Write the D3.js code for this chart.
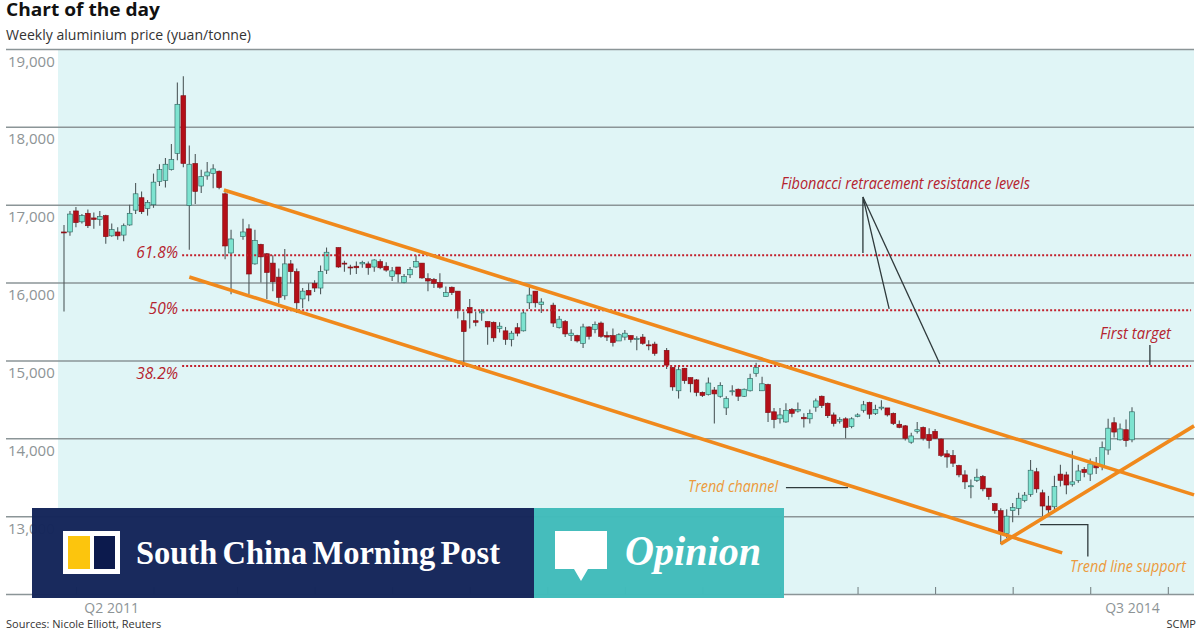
<!DOCTYPE html>
<html><head><meta charset="utf-8">
<script src="https://cdn.jsdelivr.net/npm/d3@7/dist/d3.min.js"></script>
<style>html,body{margin:0;padding:0;background:#fff;overflow:hidden}svg{display:block}text{font-family:"Open Sans",sans-serif}</style>
</head><body><svg id="c" width="1200" height="630"></svg>
<script>
const open=[16650,16650,16920,16780,16890,16830,16810,16860,16600,16650,
16610,16740,16930,17090,16950,17000,17300,17310,17450,17660,
18400,16990,17530,17240,17370,17400,17430,17140,16380,null,
16590,16690,16240,16490,16370,16250,16070,15830,16240,16140,
15790,15900,15990,15930,16160,null,16450,16250,16200,16210,
16240,16240,16200,16270,16210,16080,16200,16000,16100,16200,
16250,16050,16040,16000,15820,15940,15890,15510,15680,15510,
15610,15500,15490,15410,15380,15270,15420,15380,15740,15890,
15720,null,15710,15420,15500,15320,15320,15220,15430,15400,
15480,15320,15320,15250,15300,15320,15270,15300,15200,15210,
null,15130,14910,14610,14900,14780,14750,14590,14560,14620,
14540,14390,14600,14630,14540,14610,14830,14610,14690,14340,
14250,14210,14370,14350,14270,14250,14400,14540,14450,14300,
14220,14250,14150,14280,14360,14460,14320,14390,14390,14320,
14180,14160,13950,14090,14140,14050,14090,13990,13800,13780,
13650,13530,13380,13460,13510,13360,13160,13070,12780,13070,
13100,13200,13280,13570,13300,13130,13120,13540,13530,13410,
13460,13600,13540,13650,13650,13850,14200,13980,14110,13980];
const high=[16740,16920,16970,16880,16940,16900,16920,16870,16760,16710,
16760,17000,17280,17170,17060,17400,17520,17600,17780,18570,
18650,17760,17650,17450,17550,17520,17440,17160,16680,null,
16820,16750,16680,16500,16380,16350,16180,16430,16290,16180,
15930,15990,16030,16220,16450,null,16450,16280,16230,16270,
16280,16270,16300,16300,16260,16200,16200,16110,16200,16350,
16250,16120,16060,16120,15950,15950,15890,15630,15790,15630,
15660,15500,15500,15490,15430,15380,15480,15650,15940,15890,
15800,null,15740,15570,15520,15400,15330,15470,15440,15500,
15500,15370,15410,15350,15390,15320,15310,15340,15260,15240,
null,15160,14910,14940,14900,14780,14760,14600,14780,14660,
14720,14540,14680,14640,14640,14830,14970,14790,14700,14390,
14390,14450,14390,14460,14320,14370,14510,14550,14460,14330,
14270,14270,14270,14320,14480,14470,14430,14490,14390,14330,
14230,14170,14070,14210,14150,14130,14120,14000,13850,13850,
13660,13590,13470,13610,13530,13360,13170,13100,13090,13170,
13300,13310,13720,13620,13340,13260,13520,13660,13570,13840,
13660,13630,13740,13760,13960,14250,14270,14190,14240,14400];
const low=[15630,16600,16710,16760,16700,16690,16730,16500,16590,16550,
16530,16730,16880,16880,16860,16960,17240,17220,17440,17570,
17480,16420,17010,17150,17320,17210,17200,16300,15850,null,
16550,15850,16230,16000,15790,15890,15730,15780,15990,15610,
15670,15760,15880,15850,16110,null,16190,16140,16100,16110,
16190,16100,16140,16170,16140,16020,16000,15990,16060,16190,
16050,15890,15930,15920,15820,15840,15540,14960,15410,15440,
15510,15200,15240,15360,15200,15180,15310,15370,15660,15680,
15610,null,15430,15410,15300,15250,15230,15160,15270,15350,
15290,15250,15180,15250,15260,15230,15130,15200,15130,15060,
null,14890,14610,14510,14700,14590,14540,14530,14550,14190,
14520,14300,14550,14480,14530,14600,14790,14610,14210,14130,
14190,14200,14270,14330,14140,14190,14340,14390,14260,14150,
14190,14000,14130,14270,14330,14250,14300,14360,14280,14170,
14130,13970,13930,14060,13970,13870,13990,13760,13620,13630,
13500,13350,13230,13440,13320,13210,13030,12640,12720,12920,
13010,13180,13250,13300,13000,13030,13080,13380,13280,13380,
13430,13500,13450,13540,13590,13790,14010,13970,13890,13950];
const close=[16640,16880,16770,16860,16730,16810,16850,16590,16680,16600,
16730,16890,17140,16910,17030,17290,17450,17520,17580,18290,
17530,17520,17170,17360,17420,17460,17220,16470,16560,null,
16650,16110,16540,16330,16130,16010,15810,16240,16140,15740,
15890,15840,15930,16140,16390,null,16200,16240,16190,16190,
16260,16190,16290,16190,16160,16150,16110,16080,16170,16270,
16060,16020,15990,15940,15870,15870,15640,15370,15610,15490,
15630,15430,15290,15440,15270,15350,15350,15610,15840,15740,
15750,null,15480,15530,15340,15350,15250,15430,15310,15460,
15310,15300,15230,15330,15350,15270,15280,15220,15190,15090,
null,14940,14660,14880,14740,14700,14590,14550,14710,14570,
14680,14510,14610,14540,14630,14770,14910,14700,14330,14240,
14300,14360,14320,14370,14250,14320,14480,14420,14290,14190,
14240,14140,14250,14300,14430,14310,14370,14400,14300,14190,
14140,14000,14030,14110,14000,13970,14000,13780,13760,13680,
13530,13440,13390,13500,13350,13250,13070,12780,13000,13110,
13230,13270,13590,13350,13130,13080,13380,13460,13400,13440,
13580,13560,13670,13620,13880,14130,14080,14120,13970,14340];

const priceTicks=[19000,18000,17000,16000,15000,14000,13000,12000];
const quarterTicks=[2,15,29,42,55,68,81,94,107,120,133,146,159,172,185];
const quarterLabels=[[7.9,"Q2 2011"],[179,"Q3 2014"]];
const fibLevels=[16350,15645,14930];
const fibLabels=["61.8%","50%","38.2%"];
const fibLabelPrices=[16310,15590,14760];
const trendLines=[
 [[26.8,17190],[189.4,13273]],
 [[21,16072],[167.3,12528]],
 [[157,12644],[189.4,14159]]];
const leaderLines=[
 [[133.9,16380],[133.9,17100],[138.3,15661]],
 [[133.9,17100],[146.8,14955]],
 [[182,15199],[182,14942]],
 [[121,13367],[131.4,13367]],
 [[163.6,12892],[171.6,12892],[171.6,12481]]];

const svg=d3.select("#c");
const x=d3.scaleLinear().domain([0,179]).range([64,1132]);
const y=d3.scaleLinear().domain([12000,19000]).range([594,49]);
const RED="#b5232e",ORANGE="#f0891c";

svg.append("rect").attr("x",58).attr("y",49).attr("width",1136).attr("height",545).attr("fill","#e0f5f6");

// y axis: gridlines + labels
const ga=svg.append("g").attr("transform","translate(6,0)")
 .call(d3.axisRight(y).tickValues(priceTicks).tickSize(1188).tickFormat(d=>d===12000?"":d3.format(",")(d)));
ga.select(".domain").remove();
ga.selectAll("line").attr("stroke","#8b9597").attr("stroke-width",1.5);
ga.selectAll("text").attr("x",2).attr("dy",0).attr("y",17).attr("fill","#8d9496").attr("font-size",15).attr("text-anchor","start");

// x axis ticks
const xa=svg.append("g").attr("transform","translate(0,594)")
 .call(d3.axisTop(x).tickValues(quarterTicks).tickSize(7).tickFormat(""));
xa.select(".domain").remove();
xa.selectAll("line").attr("stroke","#6f7a7c").attr("stroke-width",1);
const xl=svg.append("g").attr("transform","translate(0,594)")
 .call(d3.axisBottom(x).tickValues(quarterLabels.map(d=>d[0])).tickSize(0)
 .tickFormat(d=>quarterLabels.find(q=>q[0]===d)[1]));
xl.select(".domain").remove();
xl.selectAll("text").attr("y",19).attr("dy",0).attr("fill","#8d9496").attr("font-size",14);

// candles
const weeks=d3.range(open.length).filter(i=>open[i]!==null);
const g=svg.append("g");
g.selectAll(".w").data(weeks).join("line").attr("class","w")
 .attr("x1",i=>x(i)).attr("x2",i=>x(i)).attr("y1",i=>y(high[i])).attr("y2",i=>y(low[i]))
 .attr("stroke","#4f5a5c").attr("stroke-width",1.1);
g.selectAll(".b").data(weeks).join("rect").attr("class","b")
 .attr("x",i=>x(i)-2.4).attr("width",4.8)
 .attr("y",i=>y(Math.max(open[i],close[i])))
 .attr("height",i=>Math.max(1,Math.abs(y(open[i])-y(close[i]))))
 .attr("fill",i=>close[i]>=open[i]?"#7de3d0":"#b40f18")
 .attr("stroke",i=>close[i]>=open[i]?"#2b5f5b":"#7d0d13").attr("stroke-width",.6);

// Fibonacci levels
svg.append("g").selectAll("line").data(fibLevels).join("line")
 .attr("x1",x(19.8)).attr("x2",x(188.9)).attr("y1",d=>y(d)).attr("y2",d=>y(d))
 .attr("stroke","#c2202c").attr("stroke-width",2).attr("stroke-dasharray","2 2");
svg.append("g").selectAll("text").data(fibLabels).join("text")
 .attr("x",178).attr("y",(d,i)=>y(fibLabelPrices[i])).attr("text-anchor","end")
 .attr("fill",RED).attr("font-style","italic").attr("font-size",15.5).text(d=>d);

// leaders + trend lines
const path=d3.line().x(d=>x(d[0])).y(d=>y(d[1]));
svg.append("g").selectAll("path").data(leaderLines).join("path").attr("d",path)
 .attr("fill","none").attr("stroke","#2f3a3c").attr("stroke-width",1.3);
svg.append("g").selectAll("path").data(trendLines).join("path").attr("d",path)
 .attr("fill","none").attr("stroke",ORANGE).attr("stroke-width",3.6);

// annotations
const note=(t,px,py,c,w)=>svg.append("text").attr("x",px).attr("y",py).attr("fill",c)
 .attr("font-style","italic").attr("font-size",15.5).attr("textLength",w).attr("lengthAdjust","spacingAndGlyphs").text(t);
note("Fibonacci retracement resistance levels",781,189,RED,249);
note("First target",1100,339,RED,71);
note("Trend channel",688,492,"#ec9a3c",90);
note("Trend line support",1070,572,"#ec9a3c",116);

// titles
svg.append("text").attr("x",6).attr("y",16).attr("font-weight",700).attr("font-size",18).attr("fill","#111")
 .attr("textLength",154).attr("lengthAdjust","spacingAndGlyphs").text("Chart of the day");
svg.append("text").attr("x",6).attr("y",40).attr("font-size",15).attr("fill","#333")
 .attr("textLength",245).attr("lengthAdjust","spacingAndGlyphs").text("Weekly aluminium price (yuan/tonne)");
svg.append("text").attr("x",6).attr("y",628).attr("font-size",11).attr("fill","#333").text("Sources: Nicole Elliott, Reuters");
svg.append("text").attr("x",1196).attr("y",628).attr("font-size",11).attr("text-anchor","end").attr("fill","#333").text("SCMP");

// banner
const b=svg.append("g");
b.append("rect").attr("x",32).attr("y",508).attr("width",502).attr("height",90).attr("fill","#14265a").attr("fill-opacity",.98);
b.append("rect").attr("x",534).attr("y",508).attr("width",250).attr("height",90).attr("fill","#41bcbb").attr("fill-opacity",.98);
b.append("rect").attr("x",63).attr("y",531).attr("width",57).attr("height",43).attr("fill","#fff");
b.append("rect").attr("x",68).attr("y",536).attr("width",22).attr("height",33).attr("fill","#fcc50d");
b.append("rect").attr("x",94).attr("y",536).attr("width",21).attr("height",33).attr("fill","#0c1a4d");
b.append("text").attr("x",136).attr("y",564).attr("fill","#fff").attr("font-size",34).attr("font-weight",700)
 .style("font-family","'Liberation Serif',serif").attr("word-spacing",-3).attr("textLength",364).attr("lengthAdjust","spacingAndGlyphs").text("South China Morning Post");
b.append("path").attr("d","M555 531H607V569H588L581 581L574 569H555Z").attr("fill","#fff");
b.append("text").attr("x",625).attr("y",565).attr("fill","#fff").attr("font-size",42).attr("font-style","italic").attr("font-weight",700)
 .style("font-family","'Liberation Serif',serif").attr("textLength",136).attr("lengthAdjust","spacingAndGlyphs").text("Opinion");
</script></body></html>
